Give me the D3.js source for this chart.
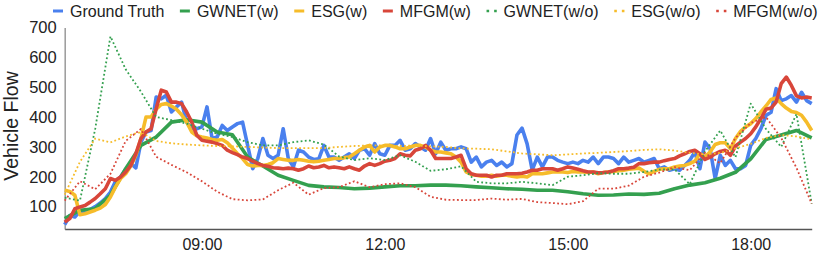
<!DOCTYPE html>
<meta charset="utf-8">
<style>
body { margin: 0; background: #fff; }
text { font-family: "Liberation Sans", Arial, sans-serif; fill: #222; }
.lines path { fill: none; stroke-linejoin: round; }
</style>
<svg width="821" height="255"></svg>
<script src="https://d3js.org/d3.v7.min.js"></script>
<script>

// 5-minute samples, 06:45 .. 19:00
var groundTruth = [40,70,65,85,85,90,100,112,127,149,185,200,225,245,230,316,350,355,467,461,
  473,417,434,450,383,361,361,367,434,328,333,372,355,367,378,383,305,227,261,328,
  272,261,272,361,261,233,289,283,266,258,
  260,305,266,266,255,266,277,261,289,294,272,311,277,272,305,305,322,289,294,311,
  300,289,328,277,316,289,294,294,300,294,249,266,233,249,255,238,249,233,244,340,
  363,310,222,266,233,266,266,255,249,
  244,249,244,255,249,266,244,266,266,261,244,266,249,255,261,249,255,261,227,233,
  222,227,222,238,255,283,227,316,294,194,272,238,255,227,227,238,305,328,361,405,
  416,495,455,461,472,450,483,455,445];
var mfgmW = [48,60,93,99,104,115,127,143,160,194,188,199,216,238,277,328,350,361,428,490,
  484,450,450,445,417,383,339,322,319,316,311,305,289,281,274,266,261,252,244,238,
  235,230,229,227,229,227,222,227,236,230,
  233,238,230,233,230,227,233,227,222,236,244,238,244,252,255,261,277,272,270,289,
  294,305,289,261,261,261,261,266,272,227,210,205,205,205,199,205,205,210,210,210,
  212,216,222,222,227,227,227,222,227,
  233,229,225,220,216,216,213,214,216,220,227,227,229,232,244,244,247,249,249,254,
  258,261,270,277,285,289,277,258,266,277,285,289,272,303,316,328,344,367,395,426,
  430,450,512,534,506,471,464,467,464];
var esgW = [155,151,138,73,76,82,88,95,107,132,166,194,210,236,272,328,400,400,426,442,
  445,437,426,408,383,350,337,333,330,325,322,325,314,296,277,261,241,236,238,238,
  241,247,261,258,255,255,258,255,252,250,
  252,255,258,261,261,264,266,277,289,300,305,283,300,305,305,300,294,294,300,305,
  305,300,289,283,283,280,277,266,249,216,208,205,202,202,205,202,205,205,202,199,
  202,199,210,210,210,213,216,216,216,
  214,218,216,216,214,216,210,214,216,218,220,222,225,227,229,218,210,218,225,227,
  227,233,236,238,244,252,277,266,283,308,314,314,294,328,352,367,378,395,417,437,
  459,464,445,430,419,415,406,383,355];

// 15-minute samples, 06:45 .. 19:00
var gwnetW = [60,88,93,138,227,305,333,383,391,383,350,341,266,236,205,188,171,
  166,164,160,162,166,170,170,172,172,170,166,163,160,158,155,155,
  150,143,138,139,142,141,145,160,172,180,195,215,260,325,340,355,330];
var gwnetWo = [130,120,360,670,560,485,400,390,378,361,344,333,316,305,305,316,322,
  308,268,256,262,256,272,250,220,225,235,183,178,178,183,178,172,
  200,205,212,210,210,216,224,225,175,285,355,265,445,360,300,410,110];
var esgWo = [140,250,328,315,335,350,320,312,308,305,303,302,300,298,296,296,296,
  296,300,303,305,305,303,305,302,300,295,294,292,285,278,275,272,
  275,278,280,283,286,290,292,288,280,275,280,295,310,330,340,335,325];
var mfgmWo = [120,185,158,210,320,360,267,240,215,185,150,125,121,124,155,180,140,
  162,165,185,165,175,178,165,133,123,122,122,127,123,126,115,112,
  108,118,160,160,170,200,214,232,222,280,245,330,380,400,330,230,110];

var yTicks = [100, 200, 300, 400, 500, 600, 700];
var xTicks = ["09:00", "12:00", "15:00", "18:00"];

var series = [
  {name: "Ground Truth", values: groundTruth, step: 5, color: "#4a80ee", dotted: false},
  {name: "GWNET(w)", values: gwnetW, step: 15, color: "#34a04f", dotted: false},
  {name: "ESG(w)", values: esgW, step: 5, color: "#f6bc2a", dotted: false},
  {name: "MFGM(w)", values: mfgmW, step: 5, color: "#d8463a", dotted: false},
  {name: "GWNET(w/o)", values: gwnetWo, step: 15, color: "#34a04f", dotted: true},
  {name: "ESG(w/o)", values: esgWo, step: 15, color: "#f6bc2a", dotted: true},
  {name: "MFGM(w/o)", values: mfgmWo, step: 15, color: "#d8463a", dotted: true}
];

var svg = d3.select("svg");
var parseTime = d3.timeParse("%H:%M");
var start = parseTime("06:45"), end = parseTime("19:00");

var x = d3.scaleTime().domain([start, end]).range([64.7, 811.7]);
var y = d3.scaleLinear().domain([25, 700]).range([229, 27.5]);

// axes
var yAxis = svg.append("g")
    .attr("transform", "translate(64.7,0)")
    .call(d3.axisLeft(y).tickValues(yTicks).tickSize(0).tickSizeOuter(0).tickPadding(8));
yAxis.select(".domain").attr("stroke", "#9a9a9a").attr("stroke-width", 1.5);
yAxis.selectAll("text").attr("font-size", 16.5).attr("font-family", null).attr("fill", "#222");

var xAxis = svg.append("g")
    .attr("transform", "translate(0,229)")
    .call(d3.axisBottom(x).tickValues(xTicks.map(parseTime))
      .tickFormat(d3.timeFormat("%H:%M")).tickSize(0).tickSizeOuter(0).tickPadding(10));
xAxis.select(".domain").attr("stroke", "#555").attr("stroke-width", 1.5);
xAxis.selectAll("text").attr("font-size", 16).attr("font-family", null).attr("fill", "#222");

svg.append("text")
    .attr("transform", "translate(18,126) rotate(-90)")
    .attr("text-anchor", "middle")
    .attr("font-size", 19.5)
    .text("Vehicle Flow");

// lines: solid first, dotted on top
var lines = svg.append("g").attr("class", "lines");
series.forEach(function(s) {
  var line = d3.line()
      .x(function(d, i) { return x(d3.timeMinute.offset(start, i * s.step)); })
      .y(function(d) { return y(d); });
  lines.append("path")
      .datum(s.values)
      .attr("d", line)
      .attr("stroke", s.color)
      .attr("stroke-width", s.dotted ? 1.8 : 3.6)
      .attr("stroke-dasharray", s.dotted ? "1.8,2.4" : null);
});

// legend
var legend = svg.append("g").attr("transform", "translate(53,0)");
var lx = 0;
series.forEach(function(s) {
  var g = legend.append("g").attr("transform", "translate(" + lx + ",0)");
  if (s.dotted) {
    g.append("line").attr("x1", 0).attr("x2", 11).attr("y1", 11).attr("y2", 11)
      .attr("stroke", s.color).attr("stroke-width", 2.6).attr("stroke-dasharray", "2.6,5");
  } else {
    g.append("line").attr("x1", 0).attr("x2", 10).attr("y1", 11).attr("y2", 11)
      .attr("stroke", s.color).attr("stroke-width", 3);
  }
  var t = g.append("text").attr("x", 17).attr("y", 17).attr("font-size", 16).text(s.name);
  lx += 17 + t.node().getComputedTextLength() + 15.6;
});

</script>
